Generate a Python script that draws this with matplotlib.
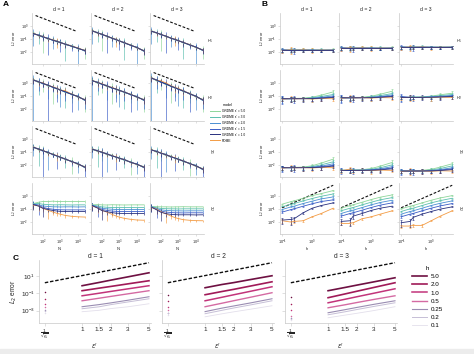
import numpy as np
import matplotlib
matplotlib.use("Agg")
import matplotlib.pyplot as plt
from matplotlib.lines import Line2D
from matplotlib.patches import Rectangle
from matplotlib.ticker import NullLocator

plt.rcParams['font.family'] = ['Liberation Sans', 'DejaVu Sans']

# ---------------- data ----------------
models = ["GRDME ε' = 5.0", "GRDME ε' = 3.0", "GRDME ε' = 2.0",
          "GRDME ε' = 1.5", "GRDME ε' = 1.0", "RDME"]
model_colors = ['#8ed69a', '#5cbfae', '#4a8fd2', '#3a5cc6', '#28307f', '#f39c45']
d_titles = ["d = 1", "d = 2", "d = 3"]
row_labels = [r"$\mu_1$", r"$\mu_2$", r"$\Sigma_1$", r"$\Sigma_2$"]
row_rot = [0, 0, 270, 270]

# Panel A: log10(L2 error) vs N, rows: model (5.0,3.0,2.0,1.5,1.0,RDME)
N = [30, 60, 100, 200, 400, 700, 1000, 2000, 5000, 10000, 25000]
refA_N = [40, 9000]
refA_log = [0.76, -0.44]

A_mu1_d1 = [[-0.52, -0.80, -0.78, -1.03, -1.04, -1.26, -1.21, -1.46, -1.50, -1.76, -1.84],
            [-0.64, -0.69, -0.89, -0.93, -1.15, -1.16, -1.31, -1.36, -1.62, -1.66, -1.93],
            [-0.57, -0.76, -0.80, -1.01, -1.07, -1.23, -1.24, -1.44, -1.54, -1.73, -1.86],
            [-0.63, -0.71, -0.86, -0.95, -1.13, -1.17, -1.30, -1.38, -1.59, -1.68, -1.91],
            [-0.60, -0.74, -0.83, -0.98, -1.10, -1.21, -1.27, -1.41, -1.57, -1.71, -1.88],
            [-0.58, -0.75, -0.81, -0.99, -1.08, -1.19, -1.28, -1.40, -1.56, -1.69, -1.87]]
A_mu1_d2 = [[-0.35, -0.60, -0.61, -0.86, -0.90, -1.12, -1.10, -1.35, -1.45, -1.70, -1.86],
            [-0.44, -0.51, -0.70, -0.76, -0.99, -1.03, -1.19, -1.26, -1.54, -1.61, -1.94],
            [-0.38, -0.57, -0.63, -0.83, -0.93, -1.09, -1.13, -1.33, -1.48, -1.67, -1.88],
            [-0.42, -0.53, -0.67, -0.78, -0.97, -1.05, -1.17, -1.28, -1.52, -1.63, -1.92],
            [-0.40, -0.55, -0.65, -0.80, -0.95, -1.07, -1.15, -1.30, -1.50, -1.65, -1.90],
            [-0.39, -0.56, -0.64, -0.81, -0.94, -1.06, -1.16, -1.29, -1.49, -1.66, -1.89]]
A_mu1_d3 = [[-0.38, -0.59, -0.62, -0.85, -0.91, -1.10, -1.09, -1.33, -1.43, -1.67, -1.81],
            [-0.46, -0.52, -0.70, -0.77, -0.99, -1.03, -1.17, -1.25, -1.51, -1.59, -1.89],
            [-0.40, -0.57, -0.64, -0.82, -0.93, -1.08, -1.11, -1.30, -1.45, -1.64, -1.83],
            [-0.44, -0.53, -0.68, -0.78, -0.97, -1.04, -1.15, -1.26, -1.49, -1.60, -1.87],
            [-0.42, -0.55, -0.66, -0.80, -0.95, -1.06, -1.13, -1.28, -1.47, -1.62, -1.85],
            [-0.41, -0.56, -0.65, -0.81, -0.94, -1.05, -1.14, -1.27, -1.46, -1.63, -1.84]]
A_mu2_d1 = [[0.26, -0.02, 0.00, -0.27, -0.30, -0.53, -0.50, -0.76, -0.85, -1.11, -1.25],
            [0.15, 0.10, -0.10, -0.15, -0.40, -0.43, -0.60, -0.65, -0.95, -1.00, -1.35],
            [0.22, 0.02, -0.03, -0.23, -0.33, -0.50, -0.53, -0.73, -0.88, -1.08, -1.28],
            [0.17, 0.08, -0.08, -0.17, -0.38, -0.45, -0.58, -0.67, -0.93, -1.02, -1.33],
            [0.20, 0.05, -0.05, -0.20, -0.35, -0.47, -0.55, -0.70, -0.90, -1.05, -1.30],
            [0.21, 0.04, -0.02, -0.21, -0.32, -0.46, -0.56, -0.62, -0.89, -1.06, -1.29]]
A_mu2_d2 = [[0.21, -0.07, -0.05, -0.32, -0.35, -0.56, -0.53, -0.78, -0.87, -1.13, -1.25],
            [0.10, 0.05, -0.15, -0.20, -0.45, -0.46, -0.63, -0.67, -0.97, -1.02, -1.35],
            [0.17, -0.03, -0.08, -0.28, -0.38, -0.53, -0.56, -0.75, -0.90, -1.10, -1.28],
            [0.12, 0.03, -0.13, -0.22, -0.43, -0.48, -0.61, -0.69, -0.95, -1.04, -1.33],
            [0.15, 0.00, -0.10, -0.25, -0.40, -0.50, -0.58, -0.72, -0.92, -1.07, -1.30],
            [0.16, -0.01, -0.07, -0.26, -0.37, -0.49, -0.59, -0.71, -0.91, -1.08, -1.29]]
A_mu2_d3 = [[0.41, 0.11, 0.11, -0.17, -0.22, -0.46, -0.43, -0.70, -0.81, -1.09, -1.25],
            [0.30, 0.23, 0.01, -0.05, -0.32, -0.36, -0.53, -0.59, -0.91, -0.98, -1.35],
            [0.37, 0.15, 0.08, -0.13, -0.25, -0.43, -0.46, -0.67, -0.84, -1.06, -1.28],
            [0.32, 0.21, 0.03, -0.07, -0.30, -0.38, -0.51, -0.61, -0.89, -1.00, -1.33],
            [0.35, 0.18, 0.06, -0.10, -0.27, -0.40, -0.48, -0.64, -0.86, -1.03, -1.30],
            [0.36, 0.17, 0.14, -0.02, -0.24, -0.39, -0.44, -0.63, -0.85, -1.04, -1.29]]
A_S1_d1 = [[-0.59, -0.87, -0.85, -1.12, -1.15, -1.38, -1.35, -1.61, -1.70, -1.96, -2.10],
           [-0.70, -0.75, -0.95, -1.00, -1.25, -1.28, -1.45, -1.50, -1.80, -1.85, -2.20],
           [-0.63, -0.83, -0.88, -1.08, -1.18, -1.35, -1.38, -1.58, -1.73, -1.93, -2.13],
           [-0.68, -0.77, -0.93, -1.02, -1.23, -1.30, -1.43, -1.52, -1.78, -1.87, -2.18],
           [-0.65, -0.80, -0.90, -1.05, -1.20, -1.32, -1.40, -1.55, -1.75, -1.90, -2.15],
           [-0.64, -0.81, -0.89, -1.06, -1.19, -1.31, -1.41, -1.54, -1.76, -1.91, -2.14]]
A_S1_d2 = [[-0.74, -1.00, -0.97, -1.23, -1.25, -1.46, -1.42, -1.66, -1.75, -1.99, -2.10],
           [-0.85, -0.88, -1.07, -1.11, -1.35, -1.36, -1.52, -1.55, -1.85, -1.88, -2.20],
           [-0.78, -0.96, -1.00, -1.19, -1.28, -1.43, -1.45, -1.63, -1.78, -1.96, -2.13],
           [-0.83, -0.90, -1.05, -1.13, -1.33, -1.38, -1.50, -1.57, -1.83, -1.90, -2.18],
           [-0.80, -0.93, -1.02, -1.16, -1.30, -1.40, -1.47, -1.60, -1.80, -1.93, -2.15],
           [-0.79, -0.94, -1.01, -1.17, -1.29, -1.39, -1.48, -1.59, -1.81, -1.94, -2.14]]
A_S1_d3 = [[-0.79, -1.05, -1.03, -1.29, -1.32, -1.54, -1.50, -1.76, -1.85, -2.11, -2.25],
           [-0.90, -0.93, -1.13, -1.17, -1.42, -1.44, -1.60, -1.65, -1.95, -2.00, -2.35],
           [-0.83, -1.01, -1.06, -1.25, -1.35, -1.51, -1.53, -1.73, -1.88, -2.08, -2.28],
           [-0.88, -0.95, -1.11, -1.19, -1.40, -1.46, -1.58, -1.67, -1.93, -2.02, -2.33],
           [-0.85, -0.98, -1.08, -1.22, -1.37, -1.48, -1.55, -1.70, -1.90, -2.05, -2.30],
           [-0.84, -0.99, -1.07, -1.23, -1.36, -1.47, -1.56, -1.69, -1.91, -2.06, -2.29]]
A_S2_d1 = [[-0.60, -0.50, -0.45, -0.45, -0.42, -0.45, -0.44, -0.45, -0.44, -0.45, -0.45],
           [-0.62, -0.60, -0.65, -0.68, -0.70, -0.70, -0.69, -0.70, -0.71, -0.70, -0.70],
           [-0.65, -0.70, -0.78, -0.82, -0.85, -0.85, -0.86, -0.85, -0.85, -0.86, -0.85],
           [-0.66, -0.75, -0.88, -0.98, -1.03, -1.06, -1.07, -1.08, -1.08, -1.08, -1.08],
           [-0.68, -0.80, -0.95, -1.05, -1.13, -1.17, -1.19, -1.20, -1.21, -1.20, -1.20],
           [-0.72, -0.78, -0.95, -1.10, -1.25, -1.35, -1.40, -1.50, -1.57, -1.60, -1.62]]
A_S2_d2 = [[-0.70, -0.68, -0.70, -0.71, -0.69, -0.70, -0.70, -0.71, -0.70, -0.70, -0.70],
           [-0.72, -0.78, -0.85, -0.88, -0.90, -0.90, -0.91, -0.90, -0.90, -0.91, -0.90],
           [-0.74, -0.85, -0.95, -1.00, -1.03, -1.05, -1.05, -1.06, -1.05, -1.05, -1.05],
           [-0.75, -0.90, -1.04, -1.12, -1.17, -1.19, -1.20, -1.20, -1.21, -1.20, -1.20],
           [-0.76, -0.95, -1.12, -1.22, -1.29, -1.33, -1.34, -1.35, -1.35, -1.35, -1.35],
           [-0.80, -0.92, -1.10, -1.25, -1.42, -1.55, -1.62, -1.72, -1.80, -1.84, -1.86]]
A_S2_d3 = [[-0.82, -0.84, -0.85, -0.85, -0.86, -0.85, -0.85, -0.84, -0.85, -0.85, -0.85],
           [-0.84, -0.92, -0.97, -0.99, -1.00, -1.00, -1.01, -1.00, -1.00, -1.00, -1.00],
           [-0.85, -0.98, -1.07, -1.12, -1.14, -1.15, -1.15, -1.16, -1.15, -1.15, -1.15],
           [-0.86, -1.03, -1.17, -1.24, -1.28, -1.30, -1.30, -1.31, -1.30, -1.30, -1.30],
           [-0.87, -1.08, -1.25, -1.36, -1.42, -1.44, -1.45, -1.45, -1.45, -1.46, -1.45],
           [-0.90, -1.02, -1.20, -1.38, -1.55, -1.67, -1.73, -1.82, -1.87, -1.89, -1.90]]

# relative error bars (fraction of the value), per row of panel A
A_mu1_err = [[0.4, 0.3, 0.95, 0.3, 0.4, 0.3, 0.5, 0.3, 0.4, 0.3, 0.8],
             [0.3, 0.8, 0.3, 0.4, 0.3, 0.5, 0.3, 0.95, 0.3, 0.4, 0.3],
             [0.9, 0.3, 0.4, 0.3, 0.8, 0.3, 0.4, 0.3, 0.3, 1.1, 0.3],
             [0.3, 0.4, 0.3, 0.95, 0.3, 0.4, 0.8, 0.3, 0.5, 0.3, 0.4],
             [0.4, 0.3, 0.5, 0.3, 0.4, 0.3, 0.4, 0.5, 0.3, 0.4, 0.5],
             [0.3, 0.4, 0.3, 0.4, 0.3, 0.7, 0.3, 0.4, 0.3, 0.3, 0.4]]
A_mu2_err = [[0.5, 0.4, 0.8, 0.4, 0.95, 0.4, 0.5, 0.4, 0.8, 0.4, 0.9],
             [0.4, 0.9, 0.4, 0.5, 0.4, 0.8, 0.4, 0.95, 0.4, 0.5, 0.4],
             [1.1, 0.4, 0.5, 0.9, 0.4, 0.4, 0.95, 0.4, 0.5, 0.9, 0.4],
             [0.4, 0.8, 0.4, 1.1, 0.5, 0.9, 0.4, 0.8, 0.95, 0.4, 0.8],
             [0.5, 0.4, 0.5, 0.4, 0.5, 0.4, 0.5, 0.4, 0.5, 0.4, 0.5],
             [0.4, 0.5, 0.4, 0.5, 0.4, 0.6, 0.4, 0.5, 0.4, 0.4, 0.5]]
A_S1_err = [[0.4, 0.3, 0.8, 0.3, 0.4, 0.3, 0.5, 0.3, 0.9, 0.3, 0.4],
            [0.3, 0.95, 0.3, 0.4, 0.3, 0.5, 0.3, 0.8, 0.3, 0.4, 0.3],
            [0.8, 0.3, 0.4, 0.95, 0.4, 0.3, 0.4, 0.3, 0.3, 0.8, 0.3],
            [0.3, 0.4, 1.1, 0.3, 0.3, 0.9, 0.4, 0.3, 0.5, 0.3, 0.95],
            [0.4, 0.3, 0.5, 0.3, 0.4, 0.3, 0.4, 0.5, 0.3, 0.4, 0.5],
            [0.3, 0.4, 0.3, 0.4, 0.3, 0.6, 0.3, 0.4, 0.3, 0.3, 0.4]]
A_S2_err = [[0.4, 0.3, 0.3, 0.2, 0.2, 0.2, 0.2, 0.2, 0.2, 0.2, 0.2],
            [0.5, 0.4, 0.3, 0.2, 0.2, 0.2, 0.2, 0.2, 0.2, 0.2, 0.2],
            [0.6, 0.5, 0.3, 0.3, 0.2, 0.2, 0.2, 0.2, 0.2, 0.2, 0.2],
            [0.5, 0.8, 0.4, 0.3, 0.3, 0.2, 0.2, 0.2, 0.2, 0.2, 0.2],
            [0.6, 0.5, 0.8, 0.4, 0.3, 0.3, 0.2, 0.2, 0.2, 0.2, 0.2],
            [0.5, 0.6, 0.5, 0.8, 0.4, 0.3, 0.3, 0.3, 0.2, 0.2, 0.2]]

# Panel B: log10(L2 error) vs h
h_vals = [0.1, 0.2, 0.25, 0.5, 1.0, 2.0, 5.0]
refB_h = [0.1, 5.0]
refB_log = [-0.92, 0.78]

B_mu1_d1 = [[-1.84, -1.86, -1.83, -1.85, -1.84, -1.86, -1.84],
            [-1.86, -1.84, -1.85, -1.83, -1.86, -1.84, -1.85],
            [-1.85, -1.87, -1.84, -1.86, -1.85, -1.85, -1.86],
            [-1.83, -1.85, -1.86, -1.84, -1.85, -1.86, -1.84],
            [-1.85, -1.85, -1.85, -1.85, -1.85, -1.85, -1.85],
            [-1.88, -1.83, -1.86, -1.84, -1.87, -1.85, -1.86]]
B_mu1_d2 = [[-1.69, -1.71, -1.68, -1.70, -1.69, -1.71, -1.69],
            [-1.71, -1.69, -1.70, -1.68, -1.71, -1.69, -1.70],
            [-1.70, -1.72, -1.69, -1.71, -1.70, -1.70, -1.71],
            [-1.68, -1.70, -1.71, -1.69, -1.70, -1.71, -1.69],
            [-1.70, -1.70, -1.70, -1.70, -1.70, -1.70, -1.70],
            [-1.73, -1.68, -1.71, -1.69, -1.72, -1.70, -1.71]]
B_mu1_d3 = [[-1.62, -1.64, -1.61, -1.63, -1.62, -1.64, -1.62],
            [-1.64, -1.62, -1.63, -1.61, -1.64, -1.62, -1.63],
            [-1.63, -1.65, -1.62, -1.64, -1.63, -1.63, -1.64],
            [-1.61, -1.63, -1.64, -1.62, -1.63, -1.64, -1.62],
            [-1.63, -1.63, -1.63, -1.63, -1.63, -1.63, -1.63],
            [-1.66, -1.61, -1.64, -1.62, -1.65, -1.63, -1.64]]
B_mu2_d1 = [[-1.20, -1.23, -1.19, -1.18, -1.10, -0.95, -0.70],
            [-1.22, -1.20, -1.21, -1.20, -1.15, -1.05, -0.90],
            [-1.21, -1.23, -1.20, -1.22, -1.18, -1.12, -1.00],
            [-1.23, -1.21, -1.22, -1.20, -1.20, -1.15, -1.08],
            [-1.22, -1.22, -1.22, -1.22, -1.21, -1.18, -1.12],
            [-1.25, -1.20, -1.23, -1.21, -1.24, -1.20, -1.22]]
B_mu2_d2 = [[-1.13, -1.16, -1.12, -1.11, -1.03, -0.88, -0.65],
            [-1.15, -1.13, -1.14, -1.13, -1.08, -0.98, -0.83],
            [-1.14, -1.16, -1.13, -1.15, -1.11, -1.05, -0.93],
            [-1.16, -1.14, -1.15, -1.13, -1.13, -1.08, -1.01],
            [-1.15, -1.15, -1.15, -1.15, -1.14, -1.11, -1.05],
            [-1.18, -1.13, -1.16, -1.14, -1.17, -1.13, -1.15]]
B_mu2_d3 = [[-1.10, -1.13, -1.09, -1.08, -1.02, -0.92, -0.80],
            [-1.12, -1.10, -1.11, -1.10, -1.06, -0.99, -0.90],
            [-1.11, -1.13, -1.10, -1.12, -1.09, -1.04, -0.97],
            [-1.05, -1.11, -1.12, -1.10, -1.10, -1.07, -1.02],
            [-1.12, -1.12, -1.12, -1.12, -1.11, -1.09, -1.05],
            [-1.15, -1.10, -1.13, -1.11, -1.14, -1.10, -1.12]]
B_S1_d1 = [[-2.18, -2.21, -2.17, -2.15, -2.05, -1.85, -1.55],
           [-2.20, -2.18, -2.19, -2.18, -2.12, -1.98, -1.75],
           [-2.19, -2.21, -2.18, -2.20, -2.16, -2.08, -1.90],
           [-2.21, -2.19, -2.20, -2.18, -2.18, -2.12, -2.02],
           [-2.20, -2.20, -2.20, -2.20, -2.19, -2.16, -2.08],
           [-2.23, -2.18, -2.21, -2.19, -2.22, -2.18, -2.20]]
B_S1_d2 = [[-2.38, -2.41, -2.37, -2.35, -2.26, -2.08, -1.80],
           [-2.40, -2.38, -2.39, -2.38, -2.32, -2.20, -1.98],
           [-2.39, -2.41, -2.38, -2.40, -2.36, -2.28, -2.12],
           [-2.41, -2.39, -2.40, -2.38, -2.38, -2.32, -2.22],
           [-2.40, -2.40, -2.40, -2.40, -2.39, -2.36, -2.28],
           [-2.43, -2.30, -2.41, -2.39, -2.42, -2.38, -2.40]]
B_S1_d3 = [[-2.43, -2.46, -2.42, -2.40, -2.32, -2.15, -1.90],
           [-2.45, -2.43, -2.44, -2.43, -2.37, -2.26, -2.06],
           [-2.44, -2.46, -2.43, -2.45, -2.41, -2.34, -2.20],
           [-2.46, -2.44, -2.45, -2.43, -2.43, -2.38, -2.28],
           [-2.45, -2.45, -2.45, -2.45, -2.44, -2.41, -2.34],
           [-2.48, -2.43, -2.46, -2.44, -2.47, -2.43, -2.45]]
B_S2_d1 = [[-0.65, -0.45, -0.40, -0.20, 0.00, 0.15, 0.38],
           [-0.85, -0.65, -0.60, -0.40, -0.22, -0.05, 0.12],
           [-1.05, -0.85, -0.80, -0.60, -0.42, -0.25, -0.10],
           [-1.25, -1.05, -1.00, -0.80, -0.62, -0.45, -0.32],
           [-1.85, -1.80, -1.75, -1.30, -0.95, -0.75, -0.55],
           [-1.90, -2.00, -1.95, -1.90, -1.60, -1.35, -0.95]]
B_S2_d2 = [[-0.95, -0.75, -0.70, -0.50, -0.30, -0.12, 0.05],
           [-1.15, -0.95, -0.90, -0.70, -0.50, -0.32, -0.15],
           [-1.35, -1.15, -1.10, -0.90, -0.70, -0.52, -0.35],
           [-1.55, -1.35, -1.30, -1.10, -0.90, -0.72, -0.55],
           [-1.95, -1.90, -1.55, -1.35, -1.12, -0.95, -0.80],
           [-2.10, -2.10, -2.05, -1.75, -1.60, -1.40, -1.15]]
B_S2_d3 = [[-1.00, -0.80, -0.75, -0.55, -0.35, -0.18, 0.00],
           [-1.20, -1.00, -0.95, -0.75, -0.55, -0.38, -0.20],
           [-1.40, -1.20, -1.15, -0.95, -0.75, -0.58, -0.40],
           [-1.60, -1.40, -1.35, -1.15, -0.95, -0.78, -0.60],
           [-2.05, -1.95, -1.65, -1.40, -1.20, -1.02, -0.85],
           [-2.30, -2.30, -2.25, -2.25, -1.90, -1.55, -1.15]]

B_mu1_err = [[0.3, 0.2, 0.3, 0.2, 0.3, 0.2, 0.3],
             [0.2, 0.3, 0.2, 0.3, 0.2, 0.3, 0.2],
             [0.3, 0.4, 0.2, 0.3, 0.2, 0.2, 0.3],
             [0.4, 0.2, 0.5, 0.2, 0.3, 0.2, 0.2],
             [0.3, 0.3, 0.3, 0.3, 0.3, 0.3, 0.3],
             [0.3, 0.5, 0.2, 0.3, 0.4, 0.2, 0.3]]
B_mu2_err = [[0.3, 0.3, 0.3, 0.2, 0.3, 0.3, 0.4],
             [0.2, 0.3, 0.3, 0.3, 0.2, 0.3, 0.3],
             [0.5, 0.4, 0.3, 0.3, 0.5, 0.2, 0.3],
             [0.6, 0.3, 0.5, 0.2, 0.3, 0.3, 0.2],
             [0.3, 0.4, 0.3, 0.4, 0.3, 0.4, 0.3],
             [0.3, 0.5, 0.3, 0.3, 0.4, 0.3, 0.3]]
B_S1_err = [[0.3, 0.3, 0.3, 0.3, 0.3, 0.3, 0.4],
            [0.3, 0.3, 0.3, 0.3, 0.3, 0.3, 0.3],
            [0.4, 0.3, 0.3, 0.3, 0.4, 0.3, 0.3],
            [0.5, 0.3, 0.5, 0.3, 0.3, 0.4, 0.3],
            [0.3, 0.4, 0.3, 0.4, 0.3, 0.4, 0.3],
            [0.3, 0.5, 0.3, 0.4, 0.4, 0.3, 0.3]]
B_S2_err = [[0.1, 0.1, 0.1, 0.1, 0.1, 0.1, 0.1],
            [0.1, 0.1, 0.1, 0.1, 0.1, 0.1, 0.1],
            [0.1, 0.1, 0.1, 0.1, 0.1, 0.1, 0.1],
            [0.2, 0.1, 0.1, 0.1, 0.1, 0.1, 0.1],
            [0.5, 0.6, 0.4, 0.2, 0.1, 0.1, 0.1],
            [0.3, 0.3, 0.2, 0.2, 0.1, 0.1, 0.1]]

# Panel C: log10(L2 error) vs epsilon'
eps_vals = [1.0, 1.5, 2.0, 3.0, 5.0]
eps_single = 1 / np.sqrt(6)
eps_ticks = [1 / np.sqrt(6), 1, 1.5, 2, 3, 5]
eps_ticklabels = [r"$\frac{1}{\sqrt{6}}$", "1", "1.5", "2", "3", "5"]
h_levels = ["5.0", "2.0", "1.0", "0.5", "0.25", "0.2", "0.1"]
h_colors = ['#6e1042', '#a01a58', '#c2347a', '#d46aa2', '#9a8db2', '#c6bfd6', '#e3dfeb']
h_widths = [1.2, 1.2, 1.1, 1.0, 0.8, 0.7, 0.6]
refC_eps = [1 / np.sqrt(6), 5.0]
refC_log = [0.2, 2.49]

C_d1 = [[-0.14, 0.23, 0.50, 0.87, 1.34],
        [-0.71, -0.42, -0.22, 0.07, 0.43],
        [-1.29, -1.00, -0.79, -0.50, -0.14],
        [-1.86, -1.57, -1.36, -1.07, -0.71],
        [-2.54, -2.30, -2.10, -1.80, -1.40],
        [-2.77, -2.55, -2.30, -2.00, -1.63],
        [-3.11, -2.95, -2.75, -2.55, -2.20]]
C_d2 = [[-0.37, 0.00, 0.22, 0.57, 1.00],
        [-1.17, -0.80, -0.55, -0.17, 0.31],
        [-1.86, -1.46, -1.17, -0.77, -0.26],
        [-2.54, -2.14, -1.85, -1.45, -0.94],
        [-3.10, -2.70, -2.45, -2.10, -1.63],
        [-3.34, -2.95, -2.68, -2.33, -1.86],
        [-3.69, -3.35, -3.12, -2.82, -2.43]]
C_d3 = [[-0.71, -0.34, -0.07, 0.30, 0.77],
        [-1.51, -1.08, -0.77, -0.34, 0.20],
        [-2.09, -1.69, -1.40, -1.00, -0.49],
        [-2.66, -2.32, -2.06, -1.71, -1.29],
        [-3.23, -2.88, -2.62, -2.27, -1.86],
        [-3.46, -3.12, -2.86, -2.51, -2.09],
        [-3.80, -3.50, -3.29, -2.98, -2.54]]
C_d1_single = [-0.86, -1.66, -2.20, -2.58, -2.90, -3.00, -3.20]
C_d2_single = [-1.17, -1.86, -2.54, -2.90, -3.20, -3.30, -3.50]
C_d3_single = [-1.40, -2.20, -2.89, -3.57, -3.80, -3.90, -4.00]

# ---------------- figure ----------------
W, H = 474, 354
fig = plt.figure(figsize=(W / 100, H / 100), dpi=100)
SPINE = '#c8c8c8'
TXT = '#262626'


def px_ax(l, t, w, h):
    return fig.add_axes([l / W, 1 - (t + h) / H, w / W, h / H])


def style(ax, fs):
    for s in ['top', 'right']:
        ax.spines[s].set_visible(False)
    for s in ['left', 'bottom']:
        ax.spines[s].set_color(SPINE)
        ax.spines[s].set_linewidth(0.5)
    ax.tick_params(labelsize=fs, length=1.5, width=0.4, pad=1,
                   colors=SPINE, labelcolor=TXT)
    ax.xaxis.set_minor_locator(NullLocator())
    ax.yaxis.set_minor_locator(NullLocator())


def draw_models(ax, x, vals, errs, cap):
    for m in [0, 1, 2, 3, 5, 4]:
        y = 10 ** np.array(vals[m])
        e = y * np.array(errs[m])
        ax.errorbar(x, y, yerr=e, color=model_colors[m], lw=0.6,
                    elinewidth=0.45, capsize=cap, capthick=0.4)


A_vals = [[A_mu1_d1, A_mu1_d2, A_mu1_d3], [A_mu2_d1, A_mu2_d2, A_mu2_d3],
          [A_S1_d1, A_S1_d2, A_S1_d3], [A_S2_d1, A_S2_d2, A_S2_d3]]
A_errs = [A_mu1_err, A_mu2_err, A_S1_err, A_S2_err]
B_vals = [[B_mu1_d1, B_mu1_d2, B_mu1_d3], [B_mu2_d1, B_mu2_d2, B_mu2_d3],
          [B_S1_d1, B_S1_d2, B_S1_d3], [B_S2_d1, B_S2_d2, B_S2_d3]]
B_errs = [B_mu1_err, B_mu2_err, B_S1_err, B_S2_err]

TOPS = [13, 70, 126, 183]
AH = 51
A_left = [32, 91, 150]
B_left = [280, 339, 399]
FS_T = 2.7

for panel in ['A', 'B']:
    lefts = A_left if panel == 'A' else B_left
    for r in range(4):
        for c in range(3):
            ax = px_ax(lefts[c], TOPS[r], 54, AH)
            ax.set_xscale('log')
            ax.set_yscale('log')
            if panel == 'A':
                ax.set_xlim(25, 30000)
                draw_models(ax, N, A_vals[r][c], A_errs[r], 0)
                if r < 3:
                    ax.plot(refA_N, 10 ** np.array(refA_log), color='#111111',
                            lw=0.8, dashes=(2.5, 1.5))
                ax.set_xticks([100, 1000, 10000])
                xl = 'N'
            else:
                ax.set_xlim(0.085, 5.3)
                draw_models(ax, h_vals, B_vals[r][c], B_errs[r], 0.8)
                if r == 3:
                    ax.plot(refB_h, 10 ** np.array(refB_log), color='#111111',
                            lw=0.8, dashes=(2.5, 1.5))
                ax.set_xticks([0.1, 1])
                xl = 'h'
            ax.set_ylim(10 ** -2.9, 10 ** 0.95)
            ax.set_yticks([1, 0.1, 0.01])
            style(ax, FS_T)
            if c > 0:
                ax.set_yticklabels([])
            else:
                ax.set_ylabel(r"$L_2$ error", fontsize=2.9, labelpad=1, color=TXT)
            if r < 3:
                ax.set_xticklabels([])
            else:
                ax.set_xlabel(xl, fontsize=3.0, labelpad=0.5, color=TXT)
            if r == 0:
                ax.set_title(d_titles[c], fontsize=3.7, pad=1.5, color=TXT)
            if c == 2:
                ycen = TOPS[r] + AH * (0.55 if r < 2 else 0.5)
                fig.text((lefts[c] + 54 + 3) / W, 1 - ycen / H, row_labels[r],
                         fontsize=3.2, rotation=row_rot[r], ha='left',
                         va='center', color=TXT)

# legend for panels A/B
handles = [Line2D([], [], color=col, lw=0.7) for col in model_colors]
fig.legend(handles, models, title='model', loc='upper left',
           bbox_to_anchor=(210 / W, 1 - 103 / H), fontsize=2.3,
           title_fontsize=2.6, frameon=False, handlelength=3.0,
           labelspacing=0.6, borderpad=0, borderaxespad=0, handletextpad=0.6)

# Panel C
C_left = [39, 162, 285]
C_vals = [C_d1, C_d2, C_d3]
C_single = [C_d1_single, C_d2_single, C_d3_single]
for c in range(3):
    ax = px_ax(C_left[c], 260, 112, 63)
    ax.set_xscale('log')
    ax.set_yscale('log')
    ax.set_xlim(10 ** -0.45, 10 ** 0.72)
    ax.set_ylim(10 ** -4.4, 10 ** 2.8)
    for k in range(len(h_levels)):
        ax.plot(eps_vals, 10 ** np.array(C_vals[c][k]), color=h_colors[k],
                lw=h_widths[k])
        ax.plot([eps_single], [10 ** C_single[c][k]], 'o', color=h_colors[k],
                ms=1.1, mew=0)
    ax.plot(refC_eps, 10 ** np.array(refC_log), color='#111111', lw=1.0,
            dashes=(2.5, 1.3))
    style(ax, 4.6)
    ax.set_xticks(eps_ticks)
    ax.set_xticklabels(eps_ticklabels)
    ax.set_yticks([10, 0.1, 0.001])
    ax.tick_params(length=2)
    if c > 0:
        ax.set_yticklabels([])
    else:
        ax.set_ylabel(r"$L_2$ error", fontsize=4.8, labelpad=1, color=TXT)
    ax.set_xlabel(r"$\epsilon'$", fontsize=4.8, labelpad=1, color=TXT)
    ax.set_title(d_titles[c], fontsize=4.8, pad=1.5, color=TXT)

hh = [Line2D([], [], color=h_colors[k], lw=h_widths[k]) for k in range(len(h_levels))]
fig.legend(hh, h_levels, title='h', loc='upper left',
           bbox_to_anchor=(412 / W, 1 - 266 / H), fontsize=4.5,
           title_fontsize=4.5, frameon=False, handlelength=2.4,
           labelspacing=0.45, borderpad=0, borderaxespad=0, handletextpad=0.6)

# panel letters
fig.text(3 / W, 1 - 1 / H, 'A', fontsize=6, fontweight='bold', va='top', ha='left')
fig.text(261 / W, 1 - 1 / H, 'B', fontsize=6, fontweight='bold', va='top', ha='left')
fig.text(13 / W, 1 - 255 / H, 'C', fontsize=6, fontweight='bold', va='top', ha='left')

# grey strip at bottom
fig.patches.append(Rectangle((0, 0), 1, 5 / H, transform=fig.transFigure,
                             color='#ececec', zorder=-1))

fig.savefig('out.png', dpi=100)
